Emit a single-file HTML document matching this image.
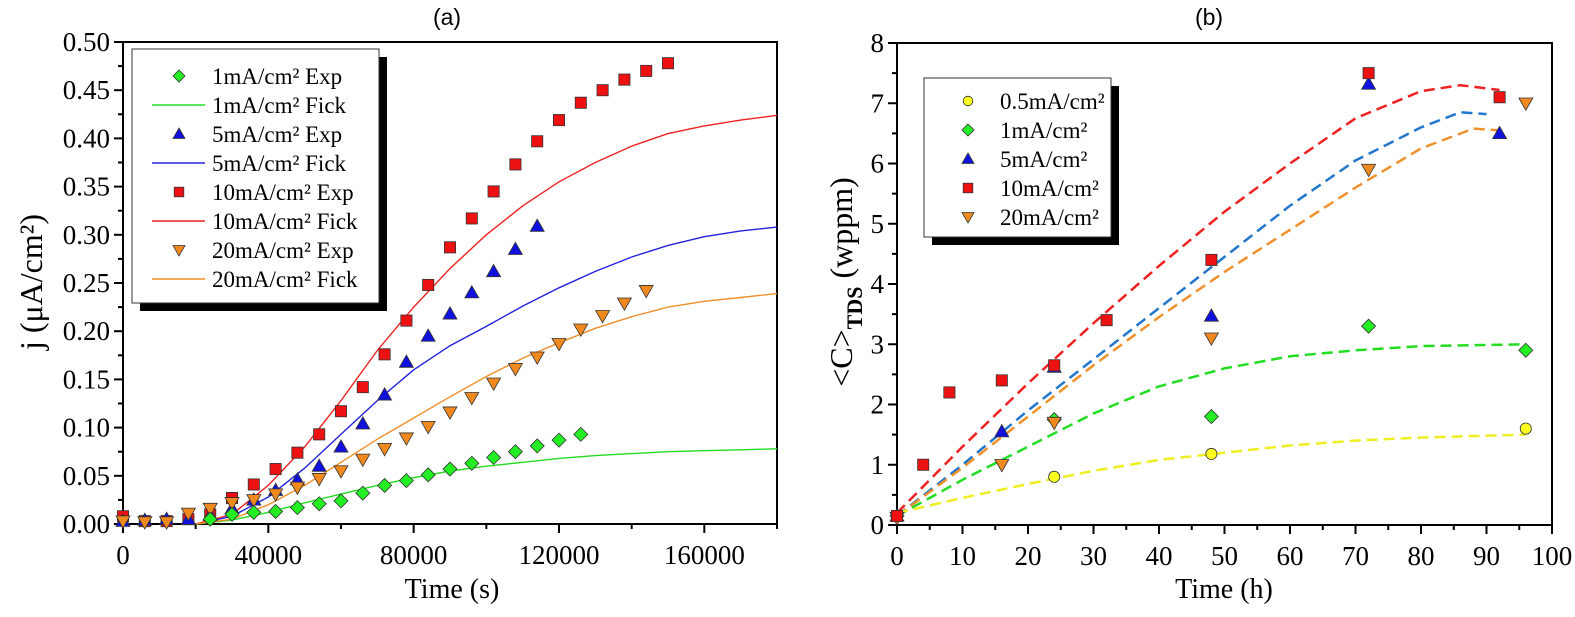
<!DOCTYPE html>
<html><head><meta charset="utf-8"><style>
body{margin:0;background:#fff;}
</style></head><body>
<svg id="c" width="1575" height="612" xmlns="http://www.w3.org/2000/svg"></svg>
<script>
// ---------- Panel (a) data ----------
const aExpX = [0,6000,12000,18000,24000,30000,36000,42000,48000,54000,60000,66000,72000,78000,84000,90000,96000,102000,108000,114000,120000,126000,132000,138000,144000,150000];
const aRedExp = [0.008,0.003,0.003,0.005,0.010,0.027,0.041,0.057,0.074,0.093,0.117,0.142,0.176,0.211,0.248,0.287,0.317,0.345,0.373,0.397,0.419,0.437,0.450,0.461,0.470,0.478];
const aBlueExp = [0.003,0.004,0.005,0.005,0.009,0.016,0.025,0.035,0.046,0.060,0.080,0.104,0.134,0.168,0.195,0.218,0.240,0.262,0.285,0.309];
const aOrangeExp = [0.003,0.002,0.002,0.011,0.016,0.022,0.025,0.031,0.038,0.047,0.055,0.067,0.078,0.089,0.101,0.116,0.131,0.146,0.161,0.173,0.187,0.202,0.216,0.229,0.242];
const aGreenExpX = [24000,30000,36000,42000,48000,54000,60000,66000,72000,78000,84000,90000,96000,102000,108000,114000,120000,126000];
const aGreenExp = [0.005,0.010,0.012,0.013,0.017,0.021,0.024,0.032,0.040,0.045,0.051,0.057,0.063,0.069,0.075,0.081,0.087,0.093];
const aFickX = [20000,30000,40000,50000,60000,70000,80000,90000,100000,110000,120000,130000,140000,150000,160000,170000,180000];
const aRedFick = [0,0.010,0.040,0.080,0.128,0.180,0.225,0.265,0.300,0.330,0.355,0.375,0.392,0.405,0.413,0.419,0.424];
const aBlueFick = [0,0.008,0.028,0.058,0.093,0.128,0.160,0.185,0.205,0.226,0.245,0.262,0.277,0.289,0.298,0.304,0.308];
const aOrangeFick = [0,0.005,0.020,0.040,0.064,0.088,0.110,0.132,0.153,0.172,0.188,0.203,0.215,0.225,0.231,0.235,0.239];
const aGreenFick = [0,0.004,0.012,0.022,0.031,0.040,0.048,0.055,0.060,0.064,0.068,0.071,0.073,0.075,0.076,0.077,0.078];
const aXTicks = [0,40000,80000,120000,160000];
const aYTicks = [0,0.05,0.10,0.15,0.20,0.25,0.30,0.35,0.40,0.45,0.50];
// ---------- Panel (b) data ----------
const bYellowX=[0,24,48,96], bYellow=[0.15,0.8,1.18,1.6];
const bGreenX=[0,24,48,72,96], bGreen=[0.15,1.75,1.8,3.3,2.9];
const bBlueX=[0,16,24,48,72,92], bBlue=[0.15,1.55,2.62,3.47,7.32,6.5];
const bRedX=[0,4,8,16,24,32,48,72,92], bRed=[0.15,1,2.2,2.4,2.65,3.4,4.4,7.5,7.1];
const bOrangeX=[0,16,24,48,72,96], bOrange=[0.12,1,1.7,3.1,5.9,7.0];
const bRedFitX=[0,10,20,30,40,50,60,70,80,86,92], bRedFit=[0.2,1.3,2.35,3.35,4.3,5.2,6.0,6.75,7.2,7.3,7.22];
const bBlueFitX=[0,10,20,30,40,50,60,70,80,86,90], bBlueFit=[0.15,1.0,1.9,2.75,3.6,4.45,5.3,6.05,6.6,6.85,6.82];
const bOrangeFitX=[0,10,20,30,40,50,60,70,80,88,92], bOrangeFit=[0.15,0.95,1.8,2.65,3.45,4.2,4.9,5.6,6.25,6.58,6.55];
const bGreenFitX=[0,10,20,30,40,50,60,70,80,96], bGreenFit=[0.15,0.75,1.3,1.85,2.3,2.6,2.8,2.9,2.97,3.0];
const bYellowFitX=[0,10,20,30,40,50,60,70,80,96], bYellowFit=[0.2,0.45,0.68,0.9,1.08,1.2,1.32,1.4,1.45,1.5];
const bXTicks=[0,10,20,30,40,50,60,70,80,90,100];
const bYTicks=[0,1,2,3,4,5,6,7,8];

const svg=document.getElementById('c');
const NS='http://www.w3.org/2000/svg';
const SERIF='"Liberation Serif", serif';
function mk(tag,attrs,parent){const e=document.createElementNS(NS,tag);for(const k in attrs)e.setAttribute(k,attrs[k]);(parent||svg).appendChild(e);return e;}
function txt(s,attrs,parent){if(!attrs['font-family'])attrs['font-family']=SERIF;const e=mk('text',attrs,parent);e.textContent=s;return e;}

const A={x0:123,x1:777,y0:524,y1:42,xmax:180000,ymax:0.5};
const B={x0:897,x1:1552,y0:525,y1:43,xmax:100,ymax:8};
const sx=(P,v)=>P.x0+(P.x1-P.x0)*v/P.xmax;
const sy=(P,v)=>P.y0-(P.y0-P.y1)*v/P.ymax;

function marker(shape,x,y,fill,s,g){
  let e;
  if(shape==='diamond') e=mk('polygon',{points:`${x},${y-s} ${x+s},${y} ${x},${y+s} ${x-s},${y}`},g);
  else if(shape==='up') e=mk('polygon',{points:`${x},${y-s} ${x+s},${y+s*0.75} ${x-s},${y+s*0.75}`},g);
  else if(shape==='down') e=mk('polygon',{points:`${x},${y+s} ${x+s},${y-s*0.75} ${x-s},${y-s*0.75}`},g);
  else if(shape==='square') e=mk('rect',{x:x-s*0.8,y:y-s*0.8,width:s*1.6,height:s*1.6},g);
  else e=mk('circle',{cx:x,cy:y,r:s*0.8},g);
  e.setAttribute('fill',fill);e.setAttribute('stroke','#333');e.setAttribute('stroke-width','0.8');
  return e;
}
function scatter(P,xs,ys,shape,fill,name){
  const g=mk('g',{});
  
  
  ys.forEach((v,i)=>{const m=marker(shape,sx(P,xs[i]),sy(P,v),fill,7,g);
    
    });
}
function line(P,xs,ys,color,name,dash){
  const d=ys.map((v,i)=>(i?'L':'M')+sx(P,xs[i]).toFixed(1)+','+sy(P,v).toFixed(1)).join(' ');
  const p=mk('path',{d:d,fill:'none',stroke:color,'stroke-width':dash?2.5:1.4});
  if(dash)p.setAttribute('stroke-dasharray','11,6');
  
  
}
function axes(P,xt,yt,xfmt,yfmt,minorX,minorY,name){
  const g=mk('g',{});
  
  
  mk('rect',{x:P.x0,y:P.y1,width:P.x1-P.x0,height:P.y0-P.y1,fill:'none',stroke:'#000','stroke-width':2},g);
  xt.forEach(v=>{const x=sx(P,v);mk('line',{x1:x,x2:x,y1:P.y0,y2:P.y0+9,stroke:'#000','stroke-width':2},g);
    const t=txt(xfmt(v),{x:x,y:P.y0+40,'text-anchor':'middle','font-size':27},g);
    
    });
  minorX.forEach(v=>{const x=sx(P,v);mk('line',{x1:x,x2:x,y1:P.y0,y2:P.y0+5,stroke:'#000','stroke-width':2},g);});
  yt.forEach(v=>{const y=sy(P,v);mk('line',{x1:P.x0-9,x2:P.x0,y1:y,y2:y,stroke:'#000','stroke-width':2},g);
    const t=txt(yfmt(v),{x:P.x0-13,y:y+9,'text-anchor':'end','font-size':27},g);
    
    });
  minorY.forEach(v=>{const y=sy(P,v);mk('line',{x1:P.x0-5,x2:P.x0,y1:y,y2:y,stroke:'#000','stroke-width':2},g);});
}
// Panel a
const minorAX=[20000,60000,100000,140000,180000], minorAY=[0.025,0.075,0.125,0.175,0.225,0.275,0.325,0.375,0.425,0.475];
axes(A,aXTicks,aYTicks,v=>String(v),v=>v.toFixed(2),minorAX,minorAY,'axes-a');
line(A,aFickX,aGreenFick,'#22dd22','fick-1ma');
line(A,aFickX,aBlueFick,'#2222dd','fick-5ma');
line(A,aFickX,aRedFick,'#ee2222','fick-10ma');
line(A,aFickX,aOrangeFick,'#f0902a','fick-20ma');
scatter(A,aExpX,aRedExp,'square','#ee1111','exp-10ma');
scatter(A,aExpX,aBlueExp,'up','#1111dd','exp-5ma');
scatter(A,aExpX,aOrangeExp,'down','#f08a1e','exp-20ma');
scatter(A,aGreenExpX,aGreenExp,'diamond','#22ee22','exp-1ma');
// Panel b
const minorBX=[5,15,25,35,45,55,65,75,85,95], minorBY=[0.5,1.5,2.5,3.5,4.5,5.5,6.5,7.5];
axes(B,bXTicks,bYTicks,v=>String(v),v=>String(v),minorBX,minorBY,'axes-b');
line(B,bRedFitX,bRedFit,'#ee2222','fit-10ma',true);
line(B,bBlueFitX,bBlueFit,'#2277cc','fit-5ma',true);
line(B,bOrangeFitX,bOrangeFit,'#f0902a','fit-20ma',true);
line(B,bGreenFitX,bGreenFit,'#22dd22','fit-1ma',true);
line(B,bYellowFitX,bYellowFit,'#eeee22','fit-05ma',true);
scatter(B,bYellowX,bYellow,'circle','#ffff22','b-05ma');
scatter(B,bGreenX,bGreen,'diamond','#22ee22','b-1ma');
scatter(B,bOrangeX,bOrange,'down','#f08a1e','b-20ma');
scatter(B,bBlueX,bBlue,'up','#1111dd','b-5ma');
scatter(B,bRedX,bRed,'square','#ee1111','b-10ma');

// Legends
function legend(x,y,w,h,items,name,mx,lx,tx,dy,y0){
  const g=mk('g',{});
  
  
  mk('rect',{x:x+8,y:y+8,width:w,height:h,fill:'#000'},g);
  mk('rect',{x:x,y:y,width:w,height:h,fill:'#fff',stroke:'#333','stroke-width':1},g);
  items.forEach((it,i)=>{const yy=y+y0+i*dy;
    if(it[0]==='line')mk('line',{x1:lx[0],x2:lx[1],y1:yy,y2:yy,stroke:it[1],'stroke-width':1.5},g);
    else marker(it[0],mx,yy,it[1],6,g);
    const t=txt(it[2],{x:tx,y:yy+8,'font-size':23},g);
    
    });
}
legend(132,49,247,254,[['diamond','#22ee22','1mA/cm² Exp'],['line','#22dd22','1mA/cm² Fick'],['up','#1111dd','5mA/cm² Exp'],['line','#2222dd','5mA/cm² Fick'],['square','#ee1111','10mA/cm² Exp'],['line','#ee2222','10mA/cm² Fick'],['down','#f08a1e','20mA/cm² Exp'],['line','#f0902a','20mA/cm² Fick']],'legend-a',179,[152,205],212,29,27);
legend(924,78,187,159,[['circle','#ffff22','0.5mA/cm²'],['diamond','#22ee22','1mA/cm²'],['up','#1111dd','5mA/cm²'],['square','#ee1111','10mA/cm²'],['down','#f08a1e','20mA/cm²']],'legend-b',968,[0,0],1000,29,23);

// Titles
let t;
t=txt('(a)',{x:447,y:25,'text-anchor':'middle','font-size':23,'font-family':'"Liberation Sans", sans-serif'});

t=txt('(b)',{x:1209,y:25,'text-anchor':'middle','font-size':23,'font-family':'"Liberation Sans", sans-serif'});

t=txt('Time (s)',{x:452,y:598,'text-anchor':'middle','font-size':28});

t=txt('Time (h)',{x:1224,y:598,'text-anchor':'middle','font-size':28});

t=txt('j (μA/cm²)',{x:0,y:0,'text-anchor':'middle','font-size':32,transform:'translate(42,282) rotate(-90)'});

t=mk('text',{x:0,y:0,'text-anchor':'middle','font-size':32,'font-family':SERIF,transform:'translate(852,282) rotate(-90)'});
t.innerHTML='&lt;C&gt;<tspan font-size="22" font-weight="bold" dy="10">TDS</tspan><tspan dy="-10"> (wppm)</tspan>';

</script>
</body></html>
